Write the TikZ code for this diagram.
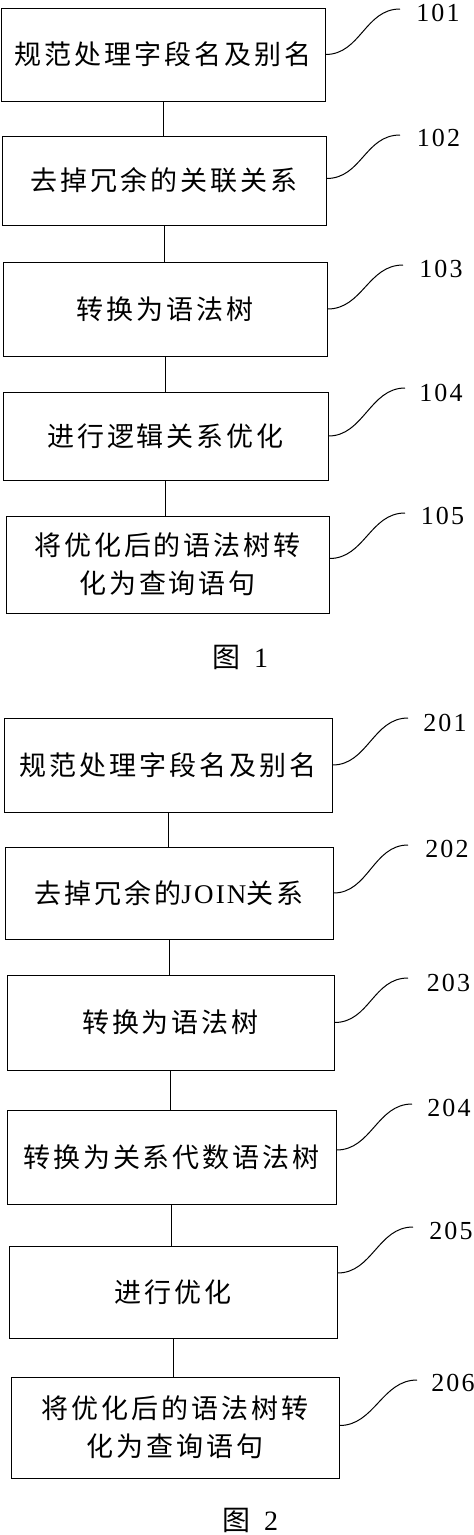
\documentclass[tikz,border=0pt]{standalone}
\usepackage{fontspec}
\setmainfont{Liberation Serif}
\newfontfamily\cjk[LetterSpace=11]{Noto Sans CJK SC}
\newfontfamily\cjkcap{Noto Sans CJK SC}
\newfontfamily\numfont[LetterSpace=8]{Liberation Serif}
\begin{document}
\begin{tikzpicture}[x=1pt,y=-1pt,
  box/.style={draw, line width=1pt, inner sep=0pt, align=center,
    font=\fontsize{27}{38}\selectfont\cjk},
  lbl/.style={inner sep=0pt, font=\fontsize{26}{30}\selectfont\numfont},
  figcap/.style={inner sep=0pt, font=\fontsize{28}{30}\selectfont},
  lead/.style={line width=1pt},
  link/.style={line width=1pt}]
\useasboundingbox (0,0) rectangle (474,1535);
\fill[white] (0,0) rectangle (474,1535);

% Figure 1
\node[box, minimum width=324pt, minimum height=93pt] (b101) at (163,54.5) {规范处理字段名及别名};
\node[box, minimum width=324pt, minimum height=89pt] (b102) at (164,180.5) {去掉冗余的关联关系};
\node[box, minimum width=324pt, minimum height=94pt] (b103) at (165,309) {转换为语法树};
\node[box, minimum width=325pt, minimum height=88pt] (b104) at (165.5,436) {进行逻辑关系优化};
\node[box, minimum width=323pt, minimum height=97pt] (b105) at (167.5,564.5) {将优化后的语法树转\\化为查询语句};

\draw[link] (b101.south) -- (b101.south |- b102.north);
\draw[link] (b102.south) -- (b102.south |- b103.north);
\draw[link] (b103.south) -- (b103.south |- b104.north);
\draw[link] (b104.south) -- (b104.south |- b105.north);

\node[lbl] (l101) at (438,13) {101};
\node[lbl] (l102) at (438.5,138) {102};
\node[lbl] (l103) at (441,269) {103};
\node[lbl] (l104) at (441,393) {104};
\node[lbl] (l105) at (442.5,516) {105};
\coordinate (c101) at (400,9);
\coordinate (c102) at (400,135);
\coordinate (c103) at (403,265);
\coordinate (c104) at (405,388);
\coordinate (c105) at (405,513);
\draw[lead] (b101.east) .. controls +(35,0) and +(-35,0) .. (c101);
\draw[lead] ([yshift=2pt]b102.east) .. controls +(35,0) and +(-35,0) .. (c102);
\draw[lead] (b103.east) .. controls +(35,0) and +(-35,0) .. (c103);
\draw[lead] (b104.east) .. controls +(35,0) and +(-35,0) .. (c104);
\draw[lead] ([yshift=6pt]b105.east) .. controls +(35,0) and +(-35,0) .. (c105);

\node[figcap] (f1) at (240,657) {{\cjkcap 图}\hspace{14pt}1};

% Figure 2
\node[box, minimum width=328pt, minimum height=94pt] (b201) at (168,765) {规范处理字段名及别名};
\node[box, minimum width=328pt, minimum height=92pt] (b202) at (169,893) {去掉冗余的{\fontspec{Liberation Serif}[LetterSpace=8]JOIN}关系};
\node[box, minimum width=327pt, minimum height=95pt] (b203) at (170.5,1022.5) {转换为语法树};
\node[box, minimum width=329pt, minimum height=94pt] (b204) at (171.5,1157) {转换为关系代数语法树};
\node[box, minimum width=328pt, minimum height=92pt] (b205) at (173,1292) {进行优化};
\node[box, minimum width=328pt, minimum height=101pt] (b206) at (175,1427.5) {将优化后的语法树转\\化为查询语句};

\draw[link] (b201.south) -- (b201.south |- b202.north);
\draw[link] (b202.south) -- (b202.south |- b203.north);
\draw[link] (b203.south) -- (b203.south |- b204.north);
\draw[link] (b204.south) -- (b204.south |- b205.north);
\draw[link] (b205.south) -- (b205.south |- b206.north);

\node[lbl] (l201) at (445,723) {201};
\node[lbl] (l202) at (447,849) {202};
\node[lbl] (l203) at (448.5,983) {203};
\node[lbl] (l204) at (449,1108) {204};
\node[lbl] (l205) at (451,1231) {205};
\node[lbl] (l206) at (453,1383) {206};
\coordinate (c201) at (408,718);
\coordinate (c202) at (408,845);
\coordinate (c203) at (408,978);
\coordinate (c204) at (412,1104);
\coordinate (c205) at (413,1227);
\coordinate (c206) at (417,1380);
\draw[lead] (b201.east) .. controls +(35,0) and +(-35,0) .. (c201);
\draw[lead] (b202.east) .. controls +(35,0) and +(-35,0) .. (c202);
\draw[lead] (b203.east) .. controls +(35,0) and +(-35,0) .. (c203);
\draw[lead] ([yshift=7pt]b204.east) .. controls +(35,0) and +(-35,0) .. (c204);
\draw[lead] ([yshift=19pt]b205.east) .. controls +(35,0) and +(-35,0) .. (c205);
\draw[lead] ([yshift=2pt]b206.east) .. controls +(35,0) and +(-35,0) .. (c206);

\node[figcap] (f2) at (250,1520) {{\cjkcap 图}\hspace{14pt}2};
\end{tikzpicture}
\end{document}
